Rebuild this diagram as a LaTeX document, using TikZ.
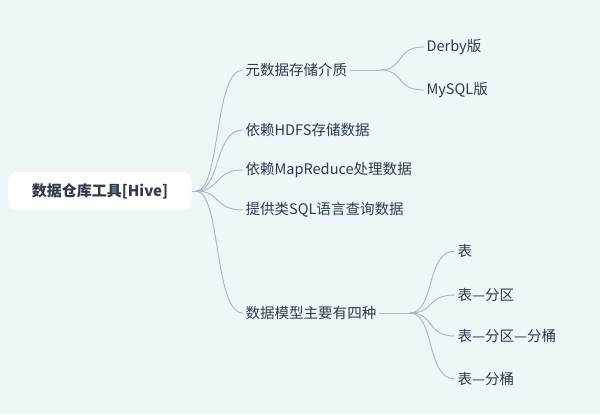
\documentclass[tikz,border=0pt]{standalone}
\usepackage{fontspec}
\setmainfont{Noto Sans CJK SC}
\definecolor{bgC}{HTML}{EEF6F8}
\definecolor{lineC}{HTML}{A9B8C3}
\definecolor{txtC}{HTML}{2F3B4A}
\tikzstyle{leaf} = [anchor=west, inner sep=2pt, text=txtC, font=\fontsize{12.4}{14}\selectfont]
\tikzstyle{rootNode} = [rectangle, rounded corners=0.3cm, fill=white, minimum width=5.5cm, minimum height=1.15cm, text=txtC, font=\fontsize{12.8}{14}\selectfont\bfseries]
\tikzstyle{branch} = [draw=lineC, line width=0.8pt]
\begin{document}
\begin{tikzpicture}[x=0.03cm, y=-0.03cm]
        \fill[bgC] (0,0) rectangle (600,414);
        \node (root) [rootNode] at (100,191) {数据仓库工具[Hive]};
        \node (meta) [leaf] at (243,70) {元数据存储介质};
        \node (hdfs) [leaf] at (243,130) {依赖HDFS存储数据};
        \node (mr) [leaf] at (243,170) {依赖MapReduce处理数据};
        \node (sql) [leaf] at (243,210) {提供类SQL语言查询数据};
        \node (model) [leaf] at (243,313) {数据模型主要有四种};
        \node (derby) [leaf] at (424,47) {Derby版};
        \node (mysql) [leaf] at (424,90) {MySQL版};
        \node (t1) [leaf] at (455,251) {表};
        \node (t2) [leaf] at (455,295) {表—分区};
        \node (t3) [leaf] at (455,336) {表—分区—分桶};
        \node (t4) [leaf] at (455,379) {表—分桶};

        \coordinate (rootOut) at (196,191);
        \coordinate (metaOut) at (380,70);
        \coordinate (modelOut) at (410,313);
        \draw [branch] (root.east) -- (rootOut);
        \foreach \n in {meta, hdfs, mr, sql, model}
            \draw [branch] (rootOut) .. controls +(25,0) and ([xshift=-25]\n.west) .. (\n.west);
        \draw [branch] (meta.east) -- (metaOut);
        \foreach \n in {derby, mysql}
            \draw [branch] (metaOut) .. controls +(25,0) and ([xshift=-25]\n.west) .. (\n.west);
        \draw [branch] (model.east) -- (modelOut);
        \foreach \n in {t1, t2, t3, t4}
            \draw [branch] (modelOut) .. controls +(25,0) and ([xshift=-25]\n.west) .. (\n.west);
\end{tikzpicture}
\end{document}
